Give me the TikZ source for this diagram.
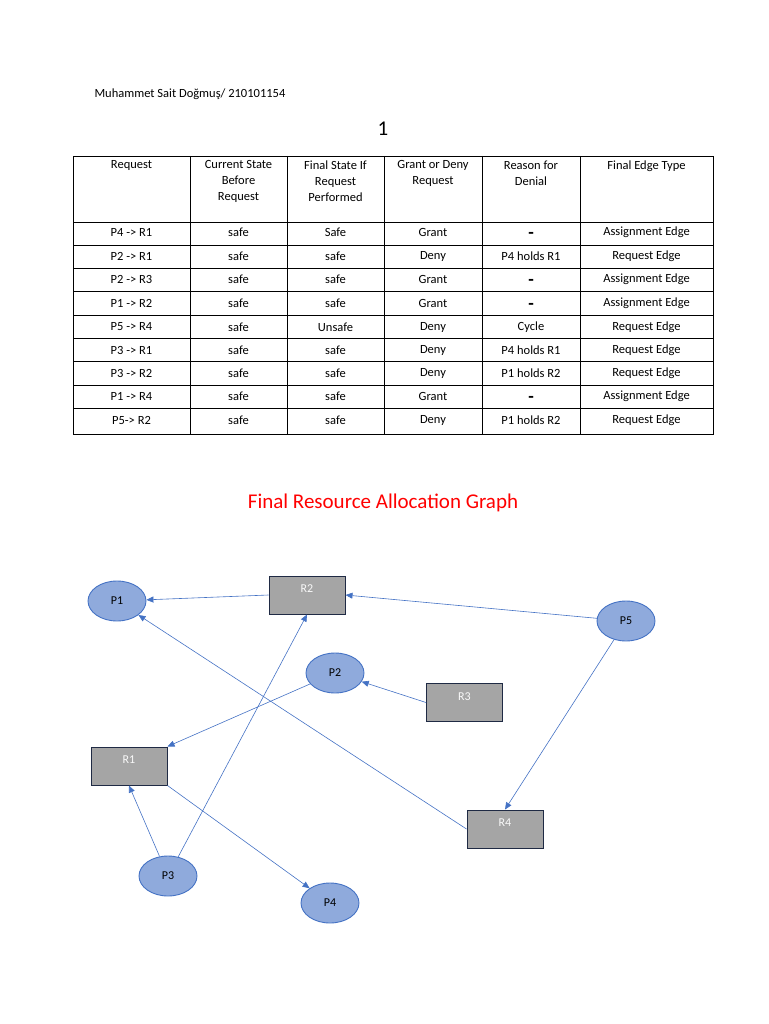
\documentclass[tikz,border=0pt]{standalone}
\usepackage{fontspec}
\setmainfont{Carlito}
\usetikzlibrary{shapes.geometric,arrows.meta}
\definecolor{eb}{HTML}{4472C4}
\definecolor{pf}{HTML}{8FAADC}
\definecolor{rf}{HTML}{A5A5A5}
\definecolor{rb}{HTML}{1F2A44}
\tikzset{
 proc/.style={ellipse,draw=eb,fill=pf,line width=0.9pt,minimum width=58pt,minimum height=40pt,inner sep=0pt,font=\fontsize{12}{14}\selectfont},
 res/.style={draw=rb,fill=rf,line width=1pt,minimum width=76pt,minimum height=38pt,inner sep=0pt},
 rlab/.style={text=white!95!gray,font=\fontsize{12}{14}\selectfont},
 edge/.style={draw=eb,line width=0.6pt,-{Triangle[length=7pt,width=6pt]}},
 cell/.style={font=\fontsize{12.5}{16}\selectfont,align=center,anchor=center},
 hcell/.style={font=\fontsize{12.5}{16}\selectfont,align=center,anchor=north},
 dashmark/.style={font=\fontsize{18}{18}\selectfont\bfseries,anchor=center}
}
\begin{document}
\begin{tikzpicture}[x=1pt,y=-1pt]
\useasboundingbox (0,0) rectangle (768,1024);
\node[anchor=west,font=\fontsize{12.5}{15}\selectfont] (name) at (91,94) {Muhammet Sait Doğmuş/ 210101154};
\node[font=\fontsize{21}{24}\selectfont] (one) at (383,129) {1};
% table
\draw[line width=0.7pt] (73,156) rectangle (713,434);
\foreach \x in {190,287,384,482,580} \draw[line width=0.7pt] (\x,156) -- (\x,434);
\foreach \y in {222,245,268,291,315,338,361,385,408} \draw[line width=0.7pt] (73,\y) -- (713,\y);
\node[hcell] (h1) at (131.5,157) {Request};
\node[hcell] (h2) at (238.5,157) {Current State\\Before\\Request};
\node[hcell] (h3) at (335.5,157) {Final State If\\Request\\Performed};
\node[hcell] (h4) at (433,157) {Grant or Deny\\Request};
\node[hcell] (h5) at (531,157) {Reason for\\Denial};
\node[hcell] (h6) at (646.5,157) {Final Edge Type};
\foreach \r/\a/\b/\c/\d/\f [count=\i] in {
 232/P4 -> R1/safe/Safe/Grant/Assignment Edge,
 256/P2 -> R1/safe/safe/Deny/Request Edge,
 279/P2 -> R3/safe/safe/Grant/Assignment Edge,
 303/P1 -> R2/safe/safe/Grant/Assignment Edge,
 327/P5 -> R4/safe/Unsafe/Deny/Request Edge,
 350/P3 -> R1/safe/safe/Deny/Request Edge,
 373/P3 -> R2/safe/safe/Deny/Request Edge,
 396/P1 -> R4/safe/safe/Grant/Assignment Edge,
 420/P5-> R2/safe/safe/Deny/Request Edge}{
 \node[cell] (a\i) at (131.5,\r) {\a};
 \node[cell] (b\i) at (238.5,\r) {\b};
 \node[cell] (c\i) at (335.5,\r) {\c};
 \node[cell] (d\i) at (433,\r) {\d};
 \node[cell] (f\i) at (646.5,\r) {\f};
}
\foreach \r/\e [count=\i] in {256/P4 holds R1,327/Cycle,350/P4 holds R1,373/P1 holds R2,420/P1 holds R2}
 \node[cell] (e\i) at (531,\r) {\e};
\foreach \r [count=\i] in {235,282,306,399} \node[dashmark] (dd\i) at (531,\r) {-};
\node[text=red,font=\fontsize{21}{24}\selectfont] (title) at (383,503) {Final Resource Allocation Graph};
% graph
\node[proc] (P1) at (117,601) {P1};
\node[proc] (P5) at (626,621) {P5};
\node[proc] (P2) at (335,673) {P2};
\node[proc] (P3) at (168,876) {P3};
\node[proc] (P4) at (330,903) {P4};
\node[res] (R2) at (307,595) {};
\node[res] (R3) at (464.5,702.5) {};
\node[res] (R1) at (129,766) {};
\node[res] (R4) at (505,829) {};
\node[rlab] (l2) at (307,589) {R2};
\node[rlab] (l3) at (464.5,697) {R3};
\node[rlab] (l1) at (129,760) {R1};
\node[rlab] (l4) at (505,823) {R4};
\draw[edge] (R2.west) -- (P1);
\draw[edge] (P5) -- (R2.east);
\draw[edge] (R4.west) -- (P1);
\draw[edge] (P3) -- (R2.south);
\draw[edge] (P2) -- (R1.north east);
\draw[edge] (R3.west) -- (P2);
\draw[edge] (P5) -- (R4.north);
\draw[edge] (P3) -- (R1.south);
\draw[edge] (R1.south east) -- (P4);
\end{tikzpicture}
\end{document}
